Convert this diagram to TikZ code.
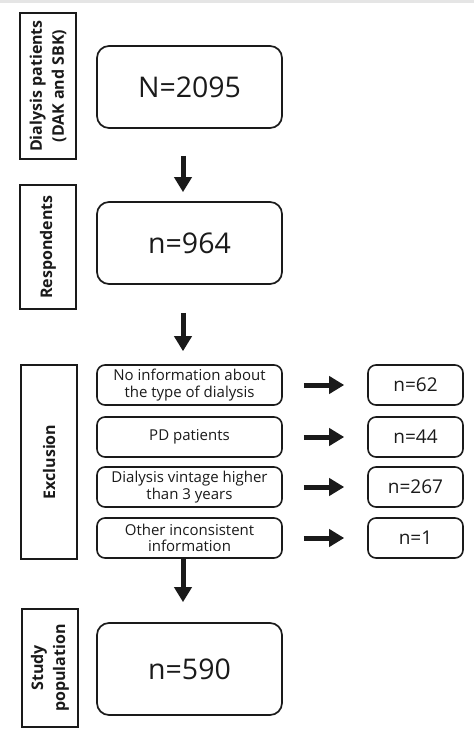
\documentclass[tikz,border=0pt]{standalone}
\usepackage{fontspec}
\setmainfont{Open Sans}
\usetikzlibrary{arrows.meta}
\definecolor{ink}{HTML}{1A1A1A}
\tikzset{
  lab/.style={draw=ink, line width=1.9pt, rotate=90, minimum height=56pt, inner sep=0pt,
    align=center, text=ink, font=\fontsize{16}{22}\selectfont\bfseries},
  mainbox/.style={draw=ink, line width=1.7pt, rounded corners=12pt, minimum width=185pt,
    inner sep=0pt, text=ink, font=\fontsize{28.5}{30}\selectfont},
  exbox/.style={draw=ink, line width=1.6pt, rounded corners=8pt, minimum width=185pt,
    minimum height=40pt, inner sep=0pt, align=center, text=ink, font=\fontsize{15}{16.5}\selectfont},
  nbox/.style={draw=ink, line width=1.6pt, rounded corners=8pt, minimum width=95pt,
    minimum height=40pt, inner sep=0pt, text=ink, font=\fontsize{19}{20}\selectfont},
  bigarrow/.style={draw=ink, line width=5pt, -{Triangle[width=17pt,length=15pt]}, ink},
}
\begin{document}
\begin{tikzpicture}[x=1pt,y=-1pt]
\useasboundingbox (0,0) rectangle (474,731);
\fill[black!10] (0,0) rectangle (474,3);

% left labels
\node[lab, minimum width=146pt] (l1) at (48,86) {Dialysis patients\\(DAK and SBK)};
\node[lab, minimum width=124pt] (l2) at (48,247) {Respondents};
\node[lab, minimum width=194pt] (l3) at (49,462) {Exclusion};
\node[lab, minimum width=118pt] (l4) at (50,668) {Study\\population};

% main boxes
\node[mainbox, minimum height=82pt] (m1) at (189.5,87) {N=2095};
\node[mainbox, minimum height=82pt] (m2) at (189.5,243) {n=964};
\node[mainbox, minimum height=92pt] (m3) at (189.5,669) {n=590};

% exclusion boxes
\node[exbox] (e1) at (189.5,385) {No information about\\the type of dialysis};
\node[exbox] (e2) at (189.5,437) {PD patients};
\node[exbox] (e3) at (189.5,487) {Dialysis vintage higher\\than 3 years};
\node[exbox] (e4) at (189.5,538) {Other inconsistent\\information};

% count boxes
\node[nbox] (r1) at (415.5,385) {n=62};
\node[nbox] (r2) at (415.5,437) {n=44};
\node[nbox] (r3) at (415.5,487) {n=267};
\node[nbox] (r4) at (415.5,538) {n=1};

% vertical arrows
\draw[bigarrow] ([xshift=-6.5pt,yshift=-27pt]m1.south) -- ([xshift=-6.5pt,yshift=9pt]m2.north);
\draw[bigarrow] ([xshift=-6.5pt,yshift=-28pt]m2.south) -- ([xshift=-6.5pt,yshift=13pt]e1.north);
\draw[bigarrow] ([xshift=-6.5pt]e4.south) -- ([xshift=-6.5pt,yshift=20pt]m3.north);

% horizontal arrows
\foreach \i in {1,2,3,4}{
  \draw[bigarrow] ([xshift=21pt]e\i.east) -- ([xshift=-23pt]r\i.west);
}
\end{tikzpicture}
\end{document}
